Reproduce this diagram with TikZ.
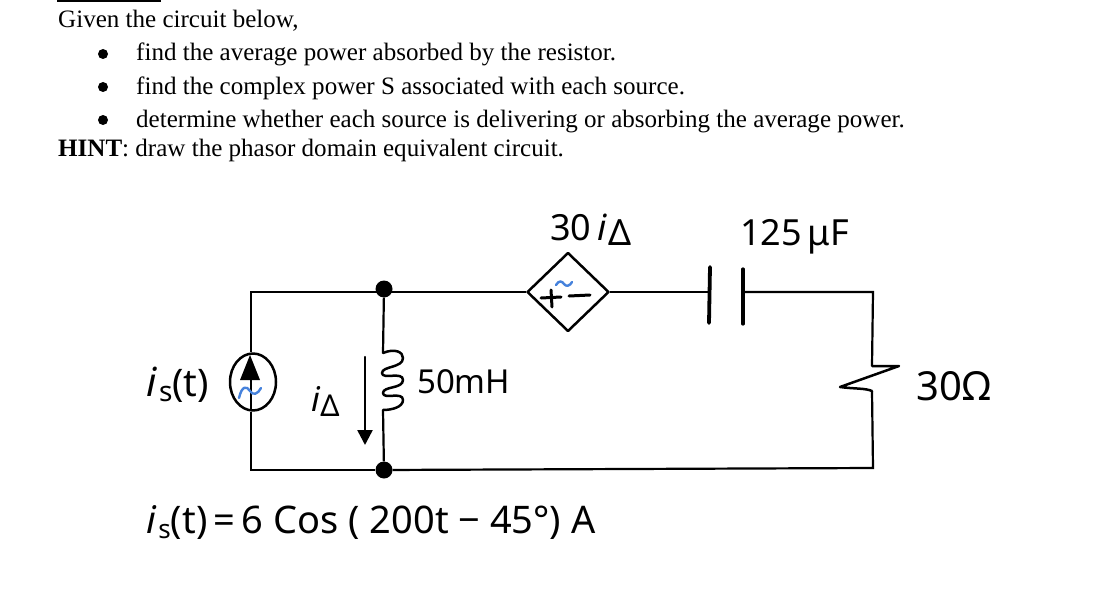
\documentclass[tikz,border=0pt]{standalone}
\usepackage{fontspec}
\setmainfont{Liberation Serif}
\newfontfamily\handfont{Noto Sans}
\usetikzlibrary{shapes.geometric,arrows.meta}
\newcommand{\hfs}[1]{\fontsize{#1}{#1}\selectfont}
\tikzset{
 wire/.style={line width=2.2pt,black},
 ink/.style={line width=2.5pt,black,line cap=round,line join=round},
 blueink/.style={line width=2.4pt,color={rgb,255:red,70;green,130;blue,220},line cap=round},
 para/.style={anchor=base west,inner sep=0pt,font=\fontsize{25.05}{28}\selectfont},
 hand/.style={inner sep=0pt,anchor=base west,font=\handfont},
 junction/.style={circle,fill=black,inner sep=0pt,minimum size=17pt},
 dot/.style={circle,fill=black,inner sep=0pt,minimum size=10pt},
}
\begin{document}
\begin{tikzpicture}[x=1pt,y=-1pt]
\useasboundingbox (0,0) rectangle (1114,602);
\fill[black] (57,0) rectangle (161,2);
\node[para] (t0) at (58,28) {Given the circuit below,};
\node[dot] (b1) at (103,54) {};
\node[dot] (b2) at (103,87) {};
\node[dot] (b3) at (103,120) {};
\node[para] (t1) at (136,61) {find the average power absorbed by the resistor.};
\node[para] (t2) at (136,94) {find the complex power S associated with each source.};
\node[para] (t3) at (136,127) {determine whether each source is delivering or absorbing the average power.};
\node[para] (t4) at (58,156) {\textbf{HINT}: draw the phasor domain equivalent circuit.};

% nodes
\coordinate (br) at (873,468);
\coordinate (tr) at (873,292);
\node[junction] (jt) at (384,289) {};
\node[junction] (jb) at (384,470) {};
\node[draw,ink,ellipse,minimum width=46pt,minimum height=57pt,inner sep=0pt] (src) at (253,382) {};
\node[draw,ink,diamond,minimum width=82pt,minimum height=79pt,inner sep=0pt] (dep) at (568,292) {};
\coordinate (c1) at (710,292);
\coordinate (c2) at (744,292);
\coordinate (l1) at (383,353);
\coordinate (l2) at (383,410);
\coordinate (r1) at (872,366);
\coordinate (r2) at (872,391);

% wires
\draw[wire] (src.north) ++(-2,0) |- (dep.west);
\draw[wire] (src.south) ++(-2,0) |- (jb);
\draw[wire] (jb) -- (br) -- (r2);
\draw[wire] (r1) -- (tr) -- (c2);
\draw[wire] (dep.east) -- (c1);
\draw[wire] (jt) -- (l1);
\draw[wire] (l2) -- (jb);

% capacitor
\draw[ink,line width=3.8pt] (710,267) -- (709,323);
\draw[ink,line width=3.2pt] (743,269) -- (743,324);

% resistor
\draw[ink] (r1) -- (899,366) -- (840,387) .. controls (855,389) and (865,388) .. (r2);

% inductor
\draw[ink] (l1) .. controls (395,348) and (403,352) .. (403,358)
  .. controls (403,368) and (382,366) .. (382,373)
  .. controls (382,380) and (403,371) .. (403,380)
  .. controls (403,389) and (383,386) .. (383,393)
  .. controls (383,400) and (403,391) .. (403,400)
  .. controls (403,407) and (392,410) .. (l2);

% source symbol
\draw[wire] (src.south) ++(-2,-2) -- ++(0,-50);
\fill[black] (250,355) -- (240,380) -- (260,380) -- cycle;
\draw[blueink] (239,398) .. controls (242,385) and (247,386) .. (250,391) .. controls (253,396) and (258,394) .. (261,388);

% dependent source symbol
\draw[ink,line width=3pt] (541,298) -- (561,297);
\draw[ink,line width=3pt] (551,290) -- (552,307);
\draw[ink,line width=3pt] (569,296) -- (590,295);
\draw[blueink] (556,285) .. controls (559,280) and (562,281) .. (564,284) .. controls (566,287) and (570,286) .. (572,282);

% current arrow
\coordinate (a1) at (365,357);
\coordinate (a2) at (365,445);
\draw[ink,-{Triangle[length=15pt,width=15pt]}] (a1) -- (a2);

% labels
\node[hand] (ldep) at (550,240) {\hfs{36}30\kern6pt\textit{i}\kern1pt\raisebox{-5pt}{\hfs{36}Δ}};
\node[hand] (lcap) at (740,245) {\hfs{36}125\,μF};
\node[hand] (lis) at (146,396) {\hfs{40}\textit{i}\kern2pt\raisebox{-5pt}{\hfs{28}s}\hfs{38}(t)};
\node[hand] (lid) at (311,411) {\hfs{34}\textit{i}\kern0pt\raisebox{-5pt}{\hfs{30}Δ}};
\node[hand] (lind) at (417,393) {\hfs{33}50mH};
\node[hand] (lres) at (916,400) {\hfs{40}30\kern1ptΩ};
\node[hand] (leq) at (146,533) {\hfs{38}\textit{i}\kern2pt\raisebox{-5pt}{\hfs{26}s}(t)\,=\,6 Cos ( 200t − 45°) A};
\end{tikzpicture}
\end{document}
